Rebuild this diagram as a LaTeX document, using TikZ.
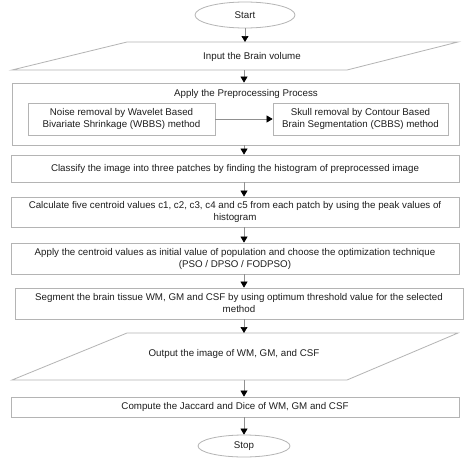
\documentclass[tikz,border=0pt]{standalone}
\usepackage{fontspec}
\setmainfont{Liberation Sans}
\usetikzlibrary{arrows.meta,shapes.geometric}
\definecolor{boxgray}{HTML}{B4B4B4}
\definecolor{arrgray}{HTML}{909090}
\definecolor{txt}{HTML}{1E1E1E}
\begin{document}
\begin{tikzpicture}[x=1pt,y=-1pt,
  lbl/.style={font=\fontsize{9.75}{12}\selectfont, text=txt, align=center, inner sep=0pt},
  box/.style={lbl, draw=boxgray, line width=0.8pt},
  oval/.style={lbl, draw=boxgray, line width=0.8pt, ellipse},
  para/.style={draw=boxgray, line width=0.8pt},
  arr/.style={draw=arrgray, line width=0.7pt, -{Triangle[length=6pt,width=7pt,color=black]}}]
\useasboundingbox (0,0) rectangle (474,463);
\fill[white] (0,0) rectangle (474,463);
% start
\node[oval, minimum width=100pt, minimum height=26pt] (start) at (245,15) {Start};
% input parallelogram
\draw[para] (127,42) -- (458,42) -- (347,70) -- (12,70) -- cycle;
\node[lbl] (input) at (252,57) {Input the Brain volume};
\coordinate (in1t) at (245,42);
\coordinate (in1b) at (244,70);
% preprocessing
\node[box, minimum width=447pt, minimum height=62pt] (pre) at (235.5,114) {};
\node[lbl] (pretitle) at (246,94) {Apply the Preprocessing Process};
\node[box, minimum width=187pt, minimum height=32pt] (wbbs) at (121.5,119) {Noise removal by Wavelet Based\\Bivariate Shrinkage (WBBS) method};
\node[box, minimum width=175pt, minimum height=32pt] (cbbs) at (360.5,119) {Skull removal by Contour Based\\Brain Segmentation (CBBS) method};
% steps
\node[box, minimum width=448pt, minimum height=27pt] (classify) at (235,168.5) {Classify the image into three patches by finding the histogram of preprocessed image};
\node[box, minimum width=448pt, minimum height=30pt] (calc) at (235,212) {Calculate five centroid values c1, c2, c3, c4 and c5 from each patch by using the peak values of\\histogram};
\node[box, minimum width=448pt, minimum height=31pt] (apply) at (235,258.5) {Apply the centroid values as initial value of population and choose the optimization technique\\(PSO / DPSO / FODPSO)};
\node[box, minimum width=448pt, minimum height=31pt] (segment) at (239,303.5) {Segment the brain tissue WM, GM and CSF by using optimum threshold value for the selected\\method};
% output parallelogram
\draw[para] (127,333) -- (458,333) -- (347,380) -- (12,380) -- cycle;
\node[lbl] (output) at (234,354) {Output the image of WM, GM, and CSF};
\coordinate (out1t) at (244,333);
\coordinate (out1b) at (244,380);
\node[box, minimum width=448pt, minimum height=20pt] (compute) at (235,407) {Compute the Jaccard and Dice of WM, GM and CSF};
\node[oval, minimum width=92pt, minimum height=22pt] (stop) at (244,446) {Stop};
% connectors
\draw[arr] (start.south) -- (in1t);
\draw[arr] (in1b) -- (in1b |- pre.north);
\draw[arr] (wbbs.east) -- (cbbs.west);
\draw[arr] (pre.south -| in1b) -- (classify.north -| in1b);
\draw[arr] (classify.south -| in1b) -- (calc.north -| in1b);
\draw[arr] (calc.south -| in1b) -- (apply.north -| in1b);
\draw[arr] (apply.south -| in1b) -- (segment.north -| in1b);
\draw[arr] (segment.south -| out1t) -- (out1t);
\draw[arr] (out1b) -- (compute.north -| out1b);
\draw[arr] (compute.south -| out1b) -- (stop.north);
\end{tikzpicture}
\end{document}
